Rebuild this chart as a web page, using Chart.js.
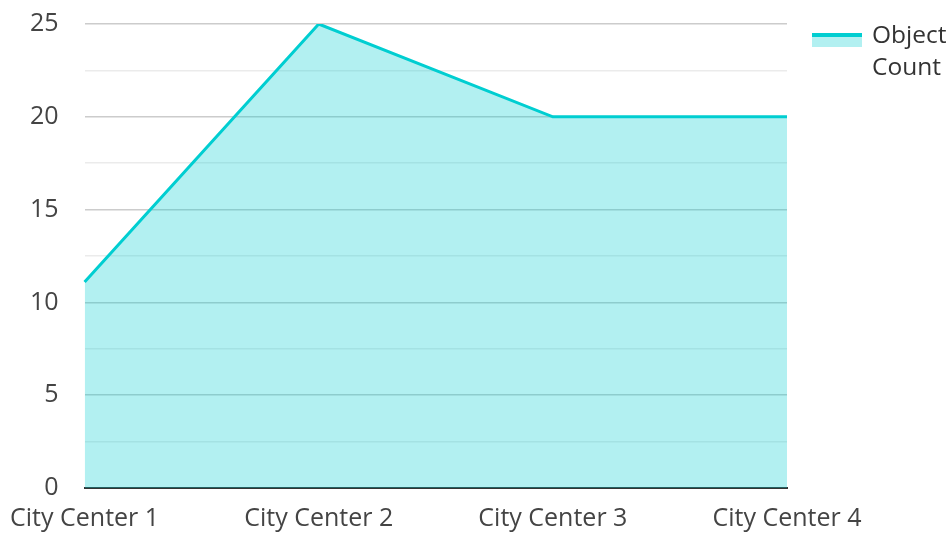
<!DOCTYPE html>
<html>
<head>
<meta charset="utf-8">
<script src="https://cdn.jsdelivr.net/npm/chart.js@4/dist/chart.umd.min.js"></script>
<style>
  html, body { margin: 0; padding: 0; background: #fff; }
  #wrap { width: 950px; height: 533px; position: relative; }
</style>
</head>
<body>
<div id="wrap"><canvas id="chart"></canvas></div>
<script>
// chart data
const categories = ['City Center 1', 'City Center 2', 'City Center 3', 'City Center 4'];
const objectCount = [11.1, 25, 20, 20];
const seriesLabel = ['Object', 'Count'];

const lineColor = 'rgb(0, 206, 209)';
const fillColor = 'rgba(0, 206, 209, 0.3)';

// draws the legend box and its two-line label at the top right
const sideLegend = {
	id: 'sideLegend',
	afterDraw(chart) {
		const ctx = chart.ctx;
		ctx.save();
		ctx.fillStyle = fillColor;
		ctx.fillRect(812, 33, 50, 14);
		ctx.fillStyle = lineColor;
		ctx.fillRect(812, 33, 50, 4);
		ctx.fillStyle = '#333';
		ctx.font = '24.5px "Open Sans"';
		ctx.textBaseline = 'middle';
		ctx.fillText(seriesLabel[0], 872, 36);
		ctx.fillText(seriesLabel[1], 872, 68);
		ctx.restore();
	}
};

const ctx = document.getElementById('chart').getContext('2d');

new Chart(ctx, {
	type: 'line',
	data: {
		labels: categories,
		datasets: [{
			label: seriesLabel.join(' '),
			data: objectCount,
			borderColor: lineColor,
			backgroundColor: fillColor,
			borderWidth: 3,
			fill: 'origin',
			pointRadius: 0,
			tension: 0
		}]
	},
	options: {
		responsive: true,
		maintainAspectRatio: false,
		animation: false,
		layout: { padding: { top: 0, right: 163, left: 21, bottom: -17 } },
		plugins: {
			legend: { display: false },
			tooltip: { enabled: false }
		},
		scales: {
			x: {
				offset: false,
				grid: { display: false, drawTicks: false },
				border: { display: true, color: '#333', width: 2 },
				ticks: {
					color: '#444',
					font: { family: 'Open Sans', size: 25 },
					padding: 16,
					maxRotation: 0
				},
				// let the layout padding decide the plot edges
				afterFit: (scale) => {
					scale.paddingLeft = 0;
					scale.paddingRight = 0;
				}
			},
			y: {
				min: 0,
				max: 25,
				border: { display: false },
				grid: {
					drawTicks: true,
					tickLength: 17,
					tickColor: 'transparent',
					color: (c) => (c.tick && c.tick.value % 5 === 0) ? '#cccccc' : '#ebebeb',
					lineWidth: 1.5
				},
				ticks: {
					stepSize: 2.5,
					color: '#444',
					font: { family: 'Open Sans', size: 25 },
					padding: 9,
					callback: (v) => (v % 5 === 0 ? v : '')
				}
			}
		}
	},
	plugins: [sideLegend]
});
</script>
</body>
</html>
